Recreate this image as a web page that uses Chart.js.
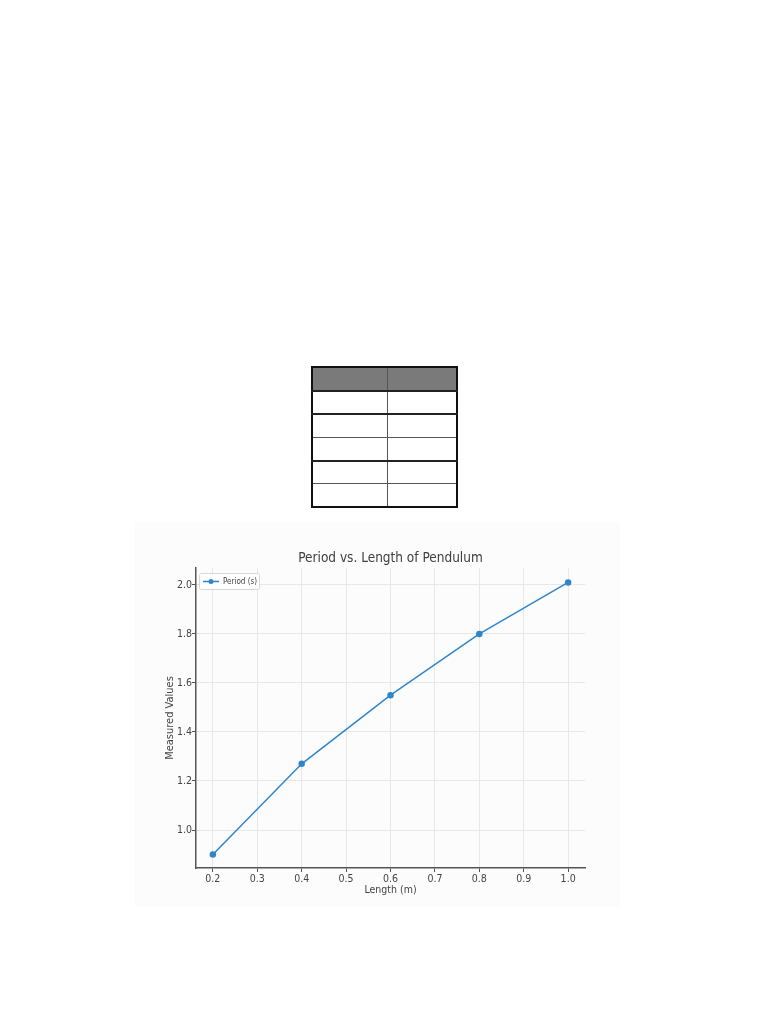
<!DOCTYPE html>
<html>
<head>
  <title>Period vs. Length of Pendulum</title>
  <script src="https://cdn.jsdelivr.net/npm/chart.js"></script>
  <style>
    body { margin: 0; background: #fff; }
    #grid {
      position: absolute; left: 311px; top: 366px;
      border-collapse: collapse;
      border: 2px solid #111;
    }
    #grid td { height: 21.7px; border: 1px solid #555; padding: 0; }
    #grid td.c1 { width: 74px; }
    #grid td.c2 { width: 68px; }
    #grid tr:first-child td { background: #7a7a7a; }
    #grid tr.dark td { border-bottom: 2px solid #222; }
    #wrap { position: absolute; left: 135px; top: 522px; width: 485px; height: 385px; background: #fcfcfc; }
  </style>
</head>
<body>
  <table id="grid">
    <tr class="dark"><td class="c1"></td><td class="c2"></td></tr>
    <tr class="dark"><td class="c1"></td><td class="c2"></td></tr>
    <tr><td class="c1"></td><td class="c2"></td></tr>
    <tr class="dark"><td class="c1"></td><td class="c2"></td></tr>
    <tr><td class="c1"></td><td class="c2"></td></tr>
    <tr><td class="c1"></td><td class="c2"></td></tr>
  </table>

  <div id="wrap"><canvas id="pendulumChart"></canvas></div>

  <script>
    const lengths = [0.2, 0.4, 0.6, 0.8, 1.0];
    const periods = [0.90, 1.27, 1.55, 1.80, 2.01];
    const xTicks = [0.2, 0.3, 0.4, 0.5, 0.6, 0.7, 0.8, 0.9, 1.0];
    const yTicks = [1.0, 1.2, 1.4, 1.6, 1.8, 2.0];
    const chartTitle = 'Period vs. Length of Pendulum';

    const FONT = "'DejaVu Sans Condensed', 'Liberation Sans Narrow', 'DejaVu Sans', sans-serif";
    const BLUE = '#2f86cc';

    // title centred over the plot area, legend inside the plot top-left
    const extras = {
      id: 'extras',
      afterDraw(chart) {
        const ctx = chart.ctx;
        const a = chart.chartArea;
        ctx.save();
        ctx.fillStyle = '#404040';
        ctx.font = '13.5px ' + FONT;
        ctx.textAlign = 'center';
        ctx.textBaseline = 'middle';
        ctx.fillText(chartTitle, (a.left + a.right) / 2, a.top - 10);

        const x = a.left + 3, y = a.top + 5, w = 60, h = 16;
        ctx.fillStyle = 'rgba(255,255,255,0.9)';
        ctx.strokeStyle = '#d8d8d8';
        ctx.lineWidth = 1;
        ctx.beginPath();
        ctx.roundRect(x + 0.5, y + 0.5, w, h, 2);
        ctx.fill();
        ctx.stroke();
        ctx.strokeStyle = BLUE;
        ctx.lineWidth = 1.5;
        ctx.beginPath();
        ctx.moveTo(x + 4, y + h / 2 + 0.5);
        ctx.lineTo(x + 20, y + h / 2 + 0.5);
        ctx.stroke();
        ctx.fillStyle = BLUE;
        ctx.beginPath();
        ctx.arc(x + 12, y + h / 2 + 0.5, 2.5, 0, Math.PI * 2);
        ctx.fill();
        ctx.fillStyle = '#444';
        ctx.font = '8px ' + FONT;
        ctx.textAlign = 'left';
        ctx.fillText(chart.data.datasets[0].label, x + 24, y + h / 2 + 0.5);
        ctx.restore();
      }
    };

    const ctx = document.getElementById('pendulumChart').getContext('2d');
    new Chart(ctx, {
      type: 'line',
      data: {
        datasets: [{
          label: 'Period (s)',
          data: lengths.map((l, i) => ({ x: l, y: periods[i] })),
          borderColor: BLUE,
          backgroundColor: BLUE,
          borderWidth: 1.5,
          pointRadius: 2.5,
          pointHoverRadius: 2.5,
          tension: 0
        }]
      },
      options: {
        responsive: true,
        maintainAspectRatio: false,
        animation: false,
        layout: { padding: { left: 0, right: 35, top: 46, bottom: 0 } },
        plugins: {
          legend: { display: false },
          tooltip: { enabled: false },
          title: { display: false }
        },
        scales: {
          x: {
            type: 'linear',
            min: 0.162,
            max: 1.038,
            afterBuildTicks: s => { s.ticks = xTicks.map(v => ({ value: v })); },
            afterFit: s => { s.height = 39; },
            ticks: {
              color: '#444',
              font: { family: FONT, size: 10.5 },
              padding: 1,
              callback: v => v.toFixed(1)
            },
            grid: { color: '#e8e8e8', tickColor: '#555', tickLength: 4 },
            border: { color: '#555', width: 1.5 },
            title: {
              display: true,
              text: 'Length (m)',
              color: '#444',
              font: { family: FONT, size: 10.5 },
              padding: { top: 0, bottom: 10 }
            }
          },
          y: {
            min: 0.845,
            max: 2.069,
            afterBuildTicks: s => { s.ticks = yTicks.map(v => ({ value: v })); },
            afterFit: s => { s.width = 61; },
            ticks: {
              color: '#444',
              font: { family: FONT, size: 10.5 },
              padding: 0,
              callback: v => v.toFixed(1)
            },
            grid: { color: '#e8e8e8', tickColor: '#555', tickLength: 4 },
            border: { color: '#555', width: 1.5 },
            title: {
              display: true,
              text: 'Measured Values',
              color: '#444',
              font: { family: FONT, size: 11 },
              padding: { top: 29, bottom: 0 }
            }
          }
        }
      },
      plugins: [extras]
    });
  </script>
</body>
</html>
